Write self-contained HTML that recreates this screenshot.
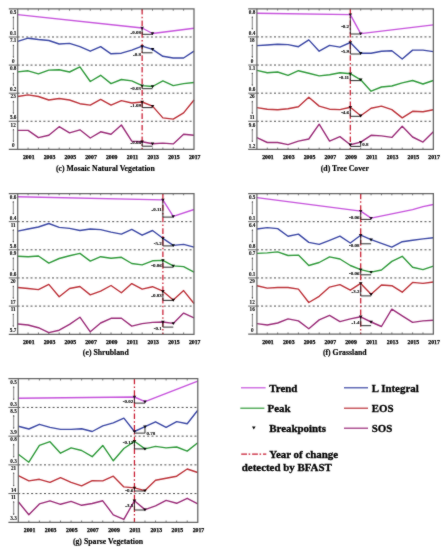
<!DOCTYPE html>
<html><head><meta charset="utf-8"><style>
html,body{margin:0;padding:0;background:#fff;}
svg{display:block;}
text{font-family:'Liberation Serif', serif;font-weight:bold;fill:#111;}
.tl{font-size:5.2px;text-anchor:middle;fill:#000;stroke:#000;stroke-width:0.1px;}
.bl{font-size:5px;fill:#000;stroke:#000;stroke-width:0.1px;}
.yr{font-size:5.8px;text-anchor:middle;fill:#000;stroke:#000;stroke-width:0.25px;}
.cap{font-size:7.75px;text-anchor:middle;fill:#000;stroke:#000;stroke-width:0.15px;}
.lg{font-size:10.9px;fill:#000;stroke:#000;stroke-width:0.3px;}
</style></head><body>
<svg width="448" height="550" viewBox="0 0 448 550">
<defs><filter id="bl" x="-5%" y="-5%" width="110%" height="110%"><feConvolveMatrix order="3" kernelMatrix="1 2 1 2 24 2 1 2 1" preserveAlpha="false"/></filter></defs>
<rect width="448" height="550" fill="#fff"/>
<g filter="url(#bl)">
<line x1="8.8" y1="36.99" x2="17.7" y2="36.99" stroke="#636363" stroke-width="1"/>
<line x1="17.6" y1="36.99" x2="193.99" y2="36.99" stroke="#444" stroke-width="0.95" stroke-dasharray="2 2.3"/>
<line x1="8.8" y1="65.08" x2="17.7" y2="65.08" stroke="#636363" stroke-width="1"/>
<line x1="17.6" y1="65.08" x2="193.99" y2="65.08" stroke="#444" stroke-width="0.95" stroke-dasharray="2 2.3"/>
<line x1="8.8" y1="93.17" x2="17.7" y2="93.17" stroke="#636363" stroke-width="1"/>
<line x1="17.6" y1="93.17" x2="193.99" y2="93.17" stroke="#444" stroke-width="0.95" stroke-dasharray="2 2.3"/>
<line x1="8.8" y1="121.26" x2="17.7" y2="121.26" stroke="#636363" stroke-width="1"/>
<line x1="17.6" y1="121.26" x2="193.99" y2="121.26" stroke="#444" stroke-width="0.95" stroke-dasharray="2 2.3"/>
<line x1="28.07" y1="8.9" x2="28.07" y2="10.7" stroke="#444" stroke-width="0.7"/>
<line x1="28.07" y1="149.35" x2="28.07" y2="147.55" stroke="#444" stroke-width="0.7"/>
<line x1="38.44" y1="8.9" x2="38.44" y2="10.7" stroke="#444" stroke-width="0.7"/>
<line x1="38.44" y1="149.35" x2="38.44" y2="147.55" stroke="#444" stroke-width="0.7"/>
<line x1="48.81" y1="8.9" x2="48.81" y2="10.7" stroke="#444" stroke-width="0.7"/>
<line x1="48.81" y1="149.35" x2="48.81" y2="147.55" stroke="#444" stroke-width="0.7"/>
<line x1="59.18" y1="8.9" x2="59.18" y2="10.7" stroke="#444" stroke-width="0.7"/>
<line x1="59.18" y1="149.35" x2="59.18" y2="147.55" stroke="#444" stroke-width="0.7"/>
<line x1="69.55" y1="8.9" x2="69.55" y2="10.7" stroke="#444" stroke-width="0.7"/>
<line x1="69.55" y1="149.35" x2="69.55" y2="147.55" stroke="#444" stroke-width="0.7"/>
<line x1="79.92" y1="8.9" x2="79.92" y2="10.7" stroke="#444" stroke-width="0.7"/>
<line x1="79.92" y1="149.35" x2="79.92" y2="147.55" stroke="#444" stroke-width="0.7"/>
<line x1="90.29" y1="8.9" x2="90.29" y2="10.7" stroke="#444" stroke-width="0.7"/>
<line x1="90.29" y1="149.35" x2="90.29" y2="147.55" stroke="#444" stroke-width="0.7"/>
<line x1="100.66" y1="8.9" x2="100.66" y2="10.7" stroke="#444" stroke-width="0.7"/>
<line x1="100.66" y1="149.35" x2="100.66" y2="147.55" stroke="#444" stroke-width="0.7"/>
<line x1="111.03" y1="8.9" x2="111.03" y2="10.7" stroke="#444" stroke-width="0.7"/>
<line x1="111.03" y1="149.35" x2="111.03" y2="147.55" stroke="#444" stroke-width="0.7"/>
<line x1="121.4" y1="8.9" x2="121.4" y2="10.7" stroke="#444" stroke-width="0.7"/>
<line x1="121.4" y1="149.35" x2="121.4" y2="147.55" stroke="#444" stroke-width="0.7"/>
<line x1="131.77" y1="8.9" x2="131.77" y2="10.7" stroke="#444" stroke-width="0.7"/>
<line x1="131.77" y1="149.35" x2="131.77" y2="147.55" stroke="#444" stroke-width="0.7"/>
<line x1="142.14" y1="8.9" x2="142.14" y2="10.7" stroke="#444" stroke-width="0.7"/>
<line x1="142.14" y1="149.35" x2="142.14" y2="147.55" stroke="#444" stroke-width="0.7"/>
<line x1="152.51" y1="8.9" x2="152.51" y2="10.7" stroke="#444" stroke-width="0.7"/>
<line x1="152.51" y1="149.35" x2="152.51" y2="147.55" stroke="#444" stroke-width="0.7"/>
<line x1="162.88" y1="8.9" x2="162.88" y2="10.7" stroke="#444" stroke-width="0.7"/>
<line x1="162.88" y1="149.35" x2="162.88" y2="147.55" stroke="#444" stroke-width="0.7"/>
<line x1="173.25" y1="8.9" x2="173.25" y2="10.7" stroke="#444" stroke-width="0.7"/>
<line x1="173.25" y1="149.35" x2="173.25" y2="147.55" stroke="#444" stroke-width="0.7"/>
<line x1="183.62" y1="8.9" x2="183.62" y2="10.7" stroke="#444" stroke-width="0.7"/>
<line x1="183.62" y1="149.35" x2="183.62" y2="147.55" stroke="#444" stroke-width="0.7"/>
<text x="13.2" y="14.2" class="tl">0.5</text>
<text x="13.2" y="35.09" class="tl">0.1</text>
<line x1="13.4" y1="16.6" x2="13.4" y2="29.59" stroke="#666" stroke-width="0.8"/>
<path d="M12.6 17.9L13.4 16.6L14.2 17.9Z" fill="#444"/>
<path d="M12.6 28.29L13.4 29.59L14.2 28.29Z" fill="#444"/>
<text x="13.2" y="42.29" class="tl">7.1</text>
<text x="13.2" y="63.18" class="tl">0</text>
<line x1="13.4" y1="44.69" x2="13.4" y2="57.68" stroke="#666" stroke-width="0.8"/>
<path d="M12.6 45.99L13.4 44.69L14.2 45.99Z" fill="#444"/>
<path d="M12.6 56.38L13.4 57.68L14.2 56.38Z" fill="#444"/>
<text x="13.2" y="70.38" class="tl">0.8</text>
<text x="13.2" y="91.27" class="tl">0.2</text>
<line x1="13.4" y1="72.78" x2="13.4" y2="85.77" stroke="#666" stroke-width="0.8"/>
<path d="M12.6 74.08L13.4 72.78L14.2 74.08Z" fill="#444"/>
<path d="M12.6 84.47L13.4 85.77L14.2 84.47Z" fill="#444"/>
<text x="13.2" y="98.47" class="tl">23</text>
<text x="13.2" y="119.36" class="tl">5.6</text>
<line x1="13.4" y1="100.87" x2="13.4" y2="113.86" stroke="#666" stroke-width="0.8"/>
<path d="M12.6 102.17L13.4 100.87L14.2 102.17Z" fill="#444"/>
<path d="M12.6 112.56L13.4 113.86L14.2 112.56Z" fill="#444"/>
<text x="13.2" y="126.56" class="tl">12</text>
<text x="13.2" y="147.45" class="tl">0</text>
<line x1="13.4" y1="128.96" x2="13.4" y2="141.95" stroke="#666" stroke-width="0.8"/>
<path d="M12.6 130.26L13.4 128.96L14.2 130.26Z" fill="#444"/>
<path d="M12.6 140.65L13.4 141.95L14.2 140.65Z" fill="#444"/>
<polyline points="17.7,14.6 142.14,28 152.51,33.5 193.99,28.2" fill="none" stroke="#c652dc" stroke-width="1.4" stroke-linejoin="round"/>
<polyline points="17.7,41.3 28.07,38.2 38.44,39.5 48.81,40.5 59.18,44 69.55,43.4 79.92,46.7 90.29,51.2 100.66,46.7 111.03,53.8 121.4,53.2 131.77,50.1 142.14,46.2 152.51,49.3 162.88,56.3 173.25,58 183.62,58 193.99,51.2" fill="none" stroke="#3a46a4" stroke-width="1.4" stroke-linejoin="round"/>
<polyline points="17.7,71.9 28.07,70.8 38.44,73.9 48.81,70.1 59.18,69.8 69.55,72 79.92,66.9 90.29,81.5 100.66,75.3 111.03,83.6 121.4,79.5 131.77,80.9 142.14,85.6 152.51,86.5 162.88,80.9 173.25,85.6 183.62,83.6 193.99,82.5" fill="none" stroke="#2f9a3a" stroke-width="1.4" stroke-linejoin="round"/>
<polyline points="17.7,96.5 28.07,94.9 38.44,96.5 48.81,100 59.18,98.5 69.55,100 79.92,103.7 90.29,105.1 100.66,99.4 111.03,105.1 121.4,100.6 131.77,103 142.14,102 152.51,106.1 162.88,117.9 173.25,119.1 183.62,112.9 193.99,100" fill="none" stroke="#bc3038" stroke-width="1.4" stroke-linejoin="round"/>
<polyline points="17.7,130.4 28.07,130.4 38.44,137.6 48.81,135.3 59.18,126.7 69.55,132.9 79.92,129.8 90.29,138 100.66,131.8 111.03,134.3 121.4,125 131.77,141.1 142.14,141.7 152.51,143.7 162.88,143.1 173.25,143.9 183.62,134.3 193.99,135.3" fill="none" stroke="#9a2c78" stroke-width="1.4" stroke-linejoin="round"/>
<line x1="142.14" y1="8.9" x2="142.14" y2="149.35" stroke="#c81c30" stroke-width="1.25" stroke-dasharray="5.6 2.2 1.5 2.3"/>
<path d="M142.14 28V34.3H152.51" fill="none" stroke="#222" stroke-width="0.95"/>
<text x="140.94" y="34.1" class="bl" text-anchor="end"><tspan dy="-0.6" stroke-width="0.35">-</tspan><tspan dy="0.6">0.08</tspan></text>
<path d="M140.34 26.8H143.94L142.14 29.7Z" fill="#000"/>
<path d="M150.71 32.3H154.31L152.51 35.2Z" fill="#000"/>
<path d="M142.14 46.2V52.8H152.51" fill="none" stroke="#222" stroke-width="0.95"/>
<text x="140.94" y="56.3" class="bl" text-anchor="end"><tspan dy="-0.6" stroke-width="0.35">-</tspan><tspan dy="0.6">0.8</tspan></text>
<path d="M140.34 45H143.94L142.14 47.9Z" fill="#000"/>
<path d="M150.71 48.1H154.31L152.51 51Z" fill="#000"/>
<path d="M142.14 85.6V88.7H152.51" fill="none" stroke="#222" stroke-width="0.95"/>
<text x="140.94" y="89.6" class="bl" text-anchor="end"><tspan dy="-0.6" stroke-width="0.35">-</tspan><tspan dy="0.6">0.03</tspan></text>
<path d="M140.34 84.4H143.94L142.14 87.3Z" fill="#000"/>
<path d="M150.71 85.3H154.31L152.51 88.2Z" fill="#000"/>
<path d="M142.14 102V107.6H152.51" fill="none" stroke="#222" stroke-width="0.95"/>
<text x="140.94" y="107.2" class="bl" text-anchor="end"><tspan dy="-0.6" stroke-width="0.35">-</tspan><tspan dy="0.6">1.09</tspan></text>
<path d="M140.34 100.8H143.94L142.14 103.7Z" fill="#000"/>
<path d="M150.71 104.9H154.31L152.51 107.8Z" fill="#000"/>
<path d="M142.14 141.7V146.2H152.51" fill="none" stroke="#222" stroke-width="0.95"/>
<text x="140.94" y="144.2" class="bl" text-anchor="end"><tspan dy="-0.6" stroke-width="0.35">-</tspan><tspan dy="0.6">0.04</tspan></text>
<path d="M140.34 140.5H143.94L142.14 143.4Z" fill="#000"/>
<path d="M150.71 142.5H154.31L152.51 145.4Z" fill="#000"/>
<path d="M8.8 8.9H193.99V149.35H8.8" fill="none" stroke="#636363" stroke-width="1.25"/>
<line x1="17.7" y1="8.9" x2="17.7" y2="149.35" stroke="#636363" stroke-width="1.2"/>
<text x="28.77" y="158.9" class="yr">2001</text>
<text x="49.51" y="158.9" class="yr">2003</text>
<text x="70.25" y="158.9" class="yr">2005</text>
<text x="90.99" y="158.9" class="yr">2007</text>
<text x="111.73" y="158.9" class="yr">2009</text>
<text x="132.47" y="158.9" class="yr">2011</text>
<text x="153.21" y="158.9" class="yr">2013</text>
<text x="173.95" y="158.9" class="yr">2015</text>
<text x="194.69" y="158.9" class="yr">2017</text>
<text x="105.35" y="171.2" class="cap">(c) Mosaic Natural Vegetation</text>
<line x1="248.2" y1="36.92" x2="256.9" y2="36.92" stroke="#636363" stroke-width="1"/>
<line x1="256.8" y1="36.92" x2="433.36" y2="36.92" stroke="#444" stroke-width="0.95" stroke-dasharray="2 2.3"/>
<line x1="248.2" y1="65.04" x2="256.9" y2="65.04" stroke="#636363" stroke-width="1"/>
<line x1="256.8" y1="65.04" x2="433.36" y2="65.04" stroke="#444" stroke-width="0.95" stroke-dasharray="2 2.3"/>
<line x1="248.2" y1="93.16" x2="256.9" y2="93.16" stroke="#636363" stroke-width="1"/>
<line x1="256.8" y1="93.16" x2="433.36" y2="93.16" stroke="#444" stroke-width="0.95" stroke-dasharray="2 2.3"/>
<line x1="248.2" y1="121.28" x2="256.9" y2="121.28" stroke="#636363" stroke-width="1"/>
<line x1="256.8" y1="121.28" x2="433.36" y2="121.28" stroke="#444" stroke-width="0.95" stroke-dasharray="2 2.3"/>
<line x1="267.28" y1="8.8" x2="267.28" y2="10.6" stroke="#444" stroke-width="0.7"/>
<line x1="267.28" y1="149.4" x2="267.28" y2="147.6" stroke="#444" stroke-width="0.7"/>
<line x1="277.66" y1="8.8" x2="277.66" y2="10.6" stroke="#444" stroke-width="0.7"/>
<line x1="277.66" y1="149.4" x2="277.66" y2="147.6" stroke="#444" stroke-width="0.7"/>
<line x1="288.04" y1="8.8" x2="288.04" y2="10.6" stroke="#444" stroke-width="0.7"/>
<line x1="288.04" y1="149.4" x2="288.04" y2="147.6" stroke="#444" stroke-width="0.7"/>
<line x1="298.42" y1="8.8" x2="298.42" y2="10.6" stroke="#444" stroke-width="0.7"/>
<line x1="298.42" y1="149.4" x2="298.42" y2="147.6" stroke="#444" stroke-width="0.7"/>
<line x1="308.8" y1="8.8" x2="308.8" y2="10.6" stroke="#444" stroke-width="0.7"/>
<line x1="308.8" y1="149.4" x2="308.8" y2="147.6" stroke="#444" stroke-width="0.7"/>
<line x1="319.18" y1="8.8" x2="319.18" y2="10.6" stroke="#444" stroke-width="0.7"/>
<line x1="319.18" y1="149.4" x2="319.18" y2="147.6" stroke="#444" stroke-width="0.7"/>
<line x1="329.56" y1="8.8" x2="329.56" y2="10.6" stroke="#444" stroke-width="0.7"/>
<line x1="329.56" y1="149.4" x2="329.56" y2="147.6" stroke="#444" stroke-width="0.7"/>
<line x1="339.94" y1="8.8" x2="339.94" y2="10.6" stroke="#444" stroke-width="0.7"/>
<line x1="339.94" y1="149.4" x2="339.94" y2="147.6" stroke="#444" stroke-width="0.7"/>
<line x1="350.32" y1="8.8" x2="350.32" y2="10.6" stroke="#444" stroke-width="0.7"/>
<line x1="350.32" y1="149.4" x2="350.32" y2="147.6" stroke="#444" stroke-width="0.7"/>
<line x1="360.7" y1="8.8" x2="360.7" y2="10.6" stroke="#444" stroke-width="0.7"/>
<line x1="360.7" y1="149.4" x2="360.7" y2="147.6" stroke="#444" stroke-width="0.7"/>
<line x1="371.08" y1="8.8" x2="371.08" y2="10.6" stroke="#444" stroke-width="0.7"/>
<line x1="371.08" y1="149.4" x2="371.08" y2="147.6" stroke="#444" stroke-width="0.7"/>
<line x1="381.46" y1="8.8" x2="381.46" y2="10.6" stroke="#444" stroke-width="0.7"/>
<line x1="381.46" y1="149.4" x2="381.46" y2="147.6" stroke="#444" stroke-width="0.7"/>
<line x1="391.84" y1="8.8" x2="391.84" y2="10.6" stroke="#444" stroke-width="0.7"/>
<line x1="391.84" y1="149.4" x2="391.84" y2="147.6" stroke="#444" stroke-width="0.7"/>
<line x1="402.22" y1="8.8" x2="402.22" y2="10.6" stroke="#444" stroke-width="0.7"/>
<line x1="402.22" y1="149.4" x2="402.22" y2="147.6" stroke="#444" stroke-width="0.7"/>
<line x1="412.6" y1="8.8" x2="412.6" y2="10.6" stroke="#444" stroke-width="0.7"/>
<line x1="412.6" y1="149.4" x2="412.6" y2="147.6" stroke="#444" stroke-width="0.7"/>
<line x1="422.98" y1="8.8" x2="422.98" y2="10.6" stroke="#444" stroke-width="0.7"/>
<line x1="422.98" y1="149.4" x2="422.98" y2="147.6" stroke="#444" stroke-width="0.7"/>
<text x="252.1" y="14.1" class="tl">0.8</text>
<text x="252.1" y="35.02" class="tl">0.4</text>
<line x1="252.3" y1="16.5" x2="252.3" y2="29.52" stroke="#666" stroke-width="0.8"/>
<path d="M251.5 17.8L252.3 16.5L253.1 17.8Z" fill="#444"/>
<path d="M251.5 28.22L252.3 29.52L253.1 28.22Z" fill="#444"/>
<text x="252.1" y="42.22" class="tl">18</text>
<text x="252.1" y="63.14" class="tl">0</text>
<line x1="252.3" y1="44.62" x2="252.3" y2="57.64" stroke="#666" stroke-width="0.8"/>
<path d="M251.5 45.92L252.3 44.62L253.1 45.92Z" fill="#444"/>
<path d="M251.5 56.34L252.3 57.64L253.1 56.34Z" fill="#444"/>
<text x="252.1" y="70.34" class="tl">1.1</text>
<text x="252.1" y="91.26" class="tl">0.6</text>
<line x1="252.3" y1="72.74" x2="252.3" y2="85.76" stroke="#666" stroke-width="0.8"/>
<path d="M251.5 74.04L252.3 72.74L253.1 74.04Z" fill="#444"/>
<path d="M251.5 84.46L252.3 85.76L253.1 84.46Z" fill="#444"/>
<text x="252.1" y="98.46" class="tl">26</text>
<text x="252.1" y="119.38" class="tl">11</text>
<line x1="252.3" y1="100.86" x2="252.3" y2="113.88" stroke="#666" stroke-width="0.8"/>
<path d="M251.5 102.16L252.3 100.86L253.1 102.16Z" fill="#444"/>
<path d="M251.5 112.58L252.3 113.88L253.1 112.58Z" fill="#444"/>
<text x="252.1" y="126.58" class="tl">9.6</text>
<text x="252.1" y="147.5" class="tl">1.2</text>
<line x1="252.3" y1="128.98" x2="252.3" y2="142" stroke="#666" stroke-width="0.8"/>
<path d="M251.5 130.28L252.3 128.98L253.1 130.28Z" fill="#444"/>
<path d="M251.5 140.7L252.3 142L253.1 140.7Z" fill="#444"/>
<polyline points="256.9,13.2 350.32,14.6 360.7,33.6 433.36,24.9" fill="none" stroke="#c652dc" stroke-width="1.4" stroke-linejoin="round"/>
<polyline points="256.9,45.6 267.28,45 277.66,44.2 288.04,44.6 298.42,46.7 308.8,39.9 319.18,51.2 329.56,45.4 339.94,47.1 350.32,42.5 360.7,53.3 371.08,53.2 381.46,51.2 391.84,50.8 402.22,59 412.6,50.1 422.98,50.1 433.36,51.6" fill="none" stroke="#3a46a4" stroke-width="1.4" stroke-linejoin="round"/>
<polyline points="256.9,70.4 267.28,72.8 277.66,72 288.04,75.3 298.42,70.7 308.8,73.3 319.18,75.9 329.56,74.7 339.94,72.7 350.32,73.7 360.7,79.8 371.08,91.2 381.46,87 391.84,86 402.22,82.9 412.6,80.5 422.98,84 433.36,80.5" fill="none" stroke="#2f9a3a" stroke-width="1.4" stroke-linejoin="round"/>
<polyline points="256.9,107.6 267.28,109.2 277.66,109.8 288.04,108.8 298.42,106.8 308.8,97.3 319.18,106.1 329.56,109.2 339.94,109.6 350.32,107.2 360.7,115.7 371.08,108.2 381.46,106.1 391.84,109.6 402.22,117.9 412.6,111.3 422.98,111.7 433.36,109.8" fill="none" stroke="#bc3038" stroke-width="1.4" stroke-linejoin="round"/>
<polyline points="256.9,137.6 267.28,142.5 277.66,142.5 288.04,144.6 298.42,141.1 308.8,139 319.18,124.2 329.56,141.1 339.94,136.6 350.32,144.8 360.7,142.1 371.08,135.3 381.46,135.9 391.84,137.4 402.22,126.3 412.6,137 422.98,142.1 433.36,131.8" fill="none" stroke="#9a2c78" stroke-width="1.4" stroke-linejoin="round"/>
<line x1="350.32" y1="8.8" x2="350.32" y2="149.4" stroke="#c81c30" stroke-width="1.25" stroke-dasharray="5.6 2.2 1.5 2.3"/>
<path d="M350.32 14.6V34H360.7" fill="none" stroke="#222" stroke-width="0.95"/>
<text x="349.12" y="27.5" class="bl" text-anchor="end"><tspan dy="-0.6" stroke-width="0.35">-</tspan><tspan dy="0.6">0.2</tspan></text>
<path d="M348.52 13.4H352.12L350.32 16.3Z" fill="#000"/>
<path d="M358.9 32.4H362.5L360.7 35.3Z" fill="#000"/>
<path d="M350.32 42.5V54H360.7" fill="none" stroke="#222" stroke-width="0.95"/>
<text x="349.12" y="52.7" class="bl" text-anchor="end"><tspan dy="-0.6" stroke-width="0.35">-</tspan><tspan dy="0.6">5.9</tspan></text>
<path d="M348.52 41.3H352.12L350.32 44.2Z" fill="#000"/>
<path d="M358.9 52.1H362.5L360.7 55Z" fill="#000"/>
<path d="M350.32 73.7V80.6H360.7" fill="none" stroke="#222" stroke-width="0.95"/>
<text x="349.12" y="78.9" class="bl" text-anchor="end"><tspan dy="-0.6" stroke-width="0.35">-</tspan><tspan dy="0.6">0.11</tspan></text>
<path d="M348.52 72.5H352.12L350.32 75.4Z" fill="#000"/>
<path d="M358.9 78.6H362.5L360.7 81.5Z" fill="#000"/>
<path d="M350.32 107.2V116.3H360.7" fill="none" stroke="#222" stroke-width="0.95"/>
<text x="349.12" y="113.6" class="bl" text-anchor="end"><tspan dy="-0.6" stroke-width="0.35">-</tspan><tspan dy="0.6">4.6</tspan></text>
<path d="M348.52 106H352.12L350.32 108.9Z" fill="#000"/>
<path d="M358.9 114.5H362.5L360.7 117.4Z" fill="#000"/>
<path d="M350.32 146.4H360.7V142.1" fill="none" stroke="#222" stroke-width="0.95"/>
<text x="362.2" y="146" class="bl" text-anchor="start">0.8</text>
<path d="M348.52 143.6H352.12L350.32 146.5Z" fill="#000"/>
<path d="M358.9 140.9H362.5L360.7 143.8Z" fill="#000"/>
<path d="M248.2 8.8H433.36V149.4H248.2" fill="none" stroke="#636363" stroke-width="1.25"/>
<line x1="256.9" y1="8.8" x2="256.9" y2="149.4" stroke="#636363" stroke-width="1.2"/>
<text x="267.98" y="158.9" class="yr">2001</text>
<text x="288.74" y="158.9" class="yr">2003</text>
<text x="309.5" y="158.9" class="yr">2005</text>
<text x="330.26" y="158.9" class="yr">2007</text>
<text x="351.02" y="158.9" class="yr">2009</text>
<text x="371.78" y="158.9" class="yr">2011</text>
<text x="392.54" y="158.9" class="yr">2013</text>
<text x="413.3" y="158.9" class="yr">2015</text>
<text x="434.06" y="158.9" class="yr">2017</text>
<text x="344.9" y="170.8" class="cap">(d) Tree Cover</text>
<line x1="8.8" y1="221.65" x2="17.7" y2="221.65" stroke="#636363" stroke-width="1"/>
<line x1="17.6" y1="221.65" x2="193.99" y2="221.65" stroke="#444" stroke-width="0.95" stroke-dasharray="2 2.3"/>
<line x1="8.8" y1="249.8" x2="17.7" y2="249.8" stroke="#636363" stroke-width="1"/>
<line x1="17.6" y1="249.8" x2="193.99" y2="249.8" stroke="#444" stroke-width="0.95" stroke-dasharray="2 2.3"/>
<line x1="8.8" y1="277.95" x2="17.7" y2="277.95" stroke="#636363" stroke-width="1"/>
<line x1="17.6" y1="277.95" x2="193.99" y2="277.95" stroke="#444" stroke-width="0.95" stroke-dasharray="2 2.3"/>
<line x1="8.8" y1="306.1" x2="17.7" y2="306.1" stroke="#636363" stroke-width="1"/>
<line x1="17.6" y1="306.1" x2="193.99" y2="306.1" stroke="#444" stroke-width="0.95" stroke-dasharray="2 2.3"/>
<line x1="28.07" y1="193.5" x2="28.07" y2="195.3" stroke="#444" stroke-width="0.7"/>
<line x1="28.07" y1="334.25" x2="28.07" y2="332.45" stroke="#444" stroke-width="0.7"/>
<line x1="38.44" y1="193.5" x2="38.44" y2="195.3" stroke="#444" stroke-width="0.7"/>
<line x1="38.44" y1="334.25" x2="38.44" y2="332.45" stroke="#444" stroke-width="0.7"/>
<line x1="48.81" y1="193.5" x2="48.81" y2="195.3" stroke="#444" stroke-width="0.7"/>
<line x1="48.81" y1="334.25" x2="48.81" y2="332.45" stroke="#444" stroke-width="0.7"/>
<line x1="59.18" y1="193.5" x2="59.18" y2="195.3" stroke="#444" stroke-width="0.7"/>
<line x1="59.18" y1="334.25" x2="59.18" y2="332.45" stroke="#444" stroke-width="0.7"/>
<line x1="69.55" y1="193.5" x2="69.55" y2="195.3" stroke="#444" stroke-width="0.7"/>
<line x1="69.55" y1="334.25" x2="69.55" y2="332.45" stroke="#444" stroke-width="0.7"/>
<line x1="79.92" y1="193.5" x2="79.92" y2="195.3" stroke="#444" stroke-width="0.7"/>
<line x1="79.92" y1="334.25" x2="79.92" y2="332.45" stroke="#444" stroke-width="0.7"/>
<line x1="90.29" y1="193.5" x2="90.29" y2="195.3" stroke="#444" stroke-width="0.7"/>
<line x1="90.29" y1="334.25" x2="90.29" y2="332.45" stroke="#444" stroke-width="0.7"/>
<line x1="100.66" y1="193.5" x2="100.66" y2="195.3" stroke="#444" stroke-width="0.7"/>
<line x1="100.66" y1="334.25" x2="100.66" y2="332.45" stroke="#444" stroke-width="0.7"/>
<line x1="111.03" y1="193.5" x2="111.03" y2="195.3" stroke="#444" stroke-width="0.7"/>
<line x1="111.03" y1="334.25" x2="111.03" y2="332.45" stroke="#444" stroke-width="0.7"/>
<line x1="121.4" y1="193.5" x2="121.4" y2="195.3" stroke="#444" stroke-width="0.7"/>
<line x1="121.4" y1="334.25" x2="121.4" y2="332.45" stroke="#444" stroke-width="0.7"/>
<line x1="131.77" y1="193.5" x2="131.77" y2="195.3" stroke="#444" stroke-width="0.7"/>
<line x1="131.77" y1="334.25" x2="131.77" y2="332.45" stroke="#444" stroke-width="0.7"/>
<line x1="142.14" y1="193.5" x2="142.14" y2="195.3" stroke="#444" stroke-width="0.7"/>
<line x1="142.14" y1="334.25" x2="142.14" y2="332.45" stroke="#444" stroke-width="0.7"/>
<line x1="152.51" y1="193.5" x2="152.51" y2="195.3" stroke="#444" stroke-width="0.7"/>
<line x1="152.51" y1="334.25" x2="152.51" y2="332.45" stroke="#444" stroke-width="0.7"/>
<line x1="162.88" y1="193.5" x2="162.88" y2="195.3" stroke="#444" stroke-width="0.7"/>
<line x1="162.88" y1="334.25" x2="162.88" y2="332.45" stroke="#444" stroke-width="0.7"/>
<line x1="173.25" y1="193.5" x2="173.25" y2="195.3" stroke="#444" stroke-width="0.7"/>
<line x1="173.25" y1="334.25" x2="173.25" y2="332.45" stroke="#444" stroke-width="0.7"/>
<line x1="183.62" y1="193.5" x2="183.62" y2="195.3" stroke="#444" stroke-width="0.7"/>
<line x1="183.62" y1="334.25" x2="183.62" y2="332.45" stroke="#444" stroke-width="0.7"/>
<text x="13.1" y="198.8" class="tl">0.6</text>
<text x="13.1" y="219.75" class="tl">0.4</text>
<line x1="13.3" y1="201.2" x2="13.3" y2="214.25" stroke="#666" stroke-width="0.8"/>
<path d="M12.5 202.5L13.3 201.2L14.1 202.5Z" fill="#444"/>
<path d="M12.5 212.95L13.3 214.25L14.1 212.95Z" fill="#444"/>
<text x="13.1" y="226.95" class="tl">11</text>
<text x="13.1" y="247.9" class="tl">5.8</text>
<line x1="13.3" y1="229.35" x2="13.3" y2="242.4" stroke="#666" stroke-width="0.8"/>
<path d="M12.5 230.65L13.3 229.35L14.1 230.65Z" fill="#444"/>
<path d="M12.5 241.1L13.3 242.4L14.1 241.1Z" fill="#444"/>
<text x="13.1" y="255.1" class="tl">0.9</text>
<text x="13.1" y="276.05" class="tl">0.6</text>
<line x1="13.3" y1="257.5" x2="13.3" y2="270.55" stroke="#666" stroke-width="0.8"/>
<path d="M12.5 258.8L13.3 257.5L14.1 258.8Z" fill="#444"/>
<path d="M12.5 269.25L13.3 270.55L14.1 269.25Z" fill="#444"/>
<text x="13.1" y="283.25" class="tl">20</text>
<text x="13.1" y="304.2" class="tl">17</text>
<line x1="13.3" y1="285.65" x2="13.3" y2="298.7" stroke="#666" stroke-width="0.8"/>
<path d="M12.5 286.95L13.3 285.65L14.1 286.95Z" fill="#444"/>
<path d="M12.5 297.4L13.3 298.7L14.1 297.4Z" fill="#444"/>
<text x="13.1" y="311.4" class="tl">11</text>
<text x="13.1" y="332.35" class="tl">5.7</text>
<line x1="13.3" y1="313.8" x2="13.3" y2="326.85" stroke="#666" stroke-width="0.8"/>
<path d="M12.5 315.1L13.3 313.8L14.1 315.1Z" fill="#444"/>
<path d="M12.5 325.55L13.3 326.85L14.1 325.55Z" fill="#444"/>
<polyline points="17.7,196.8 162.88,199.9 173.25,216.4 193.99,209.5" fill="none" stroke="#c652dc" stroke-width="1.4" stroke-linejoin="round"/>
<polyline points="17.7,231.1 28.07,229 38.44,227 48.81,223.5 59.18,227.4 69.55,228.4 79.92,230.5 90.29,229 100.66,229.6 111.03,232.1 121.4,234.1 131.77,229.4 142.14,235.2 152.51,230.5 162.88,238.3 173.25,245.4 183.62,244.4 193.99,247.1" fill="none" stroke="#3a46a4" stroke-width="1.4" stroke-linejoin="round"/>
<polyline points="17.7,256.2 28.07,256.7 38.44,256 48.81,263.1 59.18,258.5 69.55,255.7 79.92,253.4 90.29,261.1 100.66,256.7 111.03,258.3 121.4,257.3 131.77,263.5 142.14,264.9 152.51,260.8 162.88,260.4 173.25,265.9 183.62,266.6 193.99,272.1" fill="none" stroke="#2f9a3a" stroke-width="1.4" stroke-linejoin="round"/>
<polyline points="17.7,287.5 28.07,288.5 38.44,289.6 48.81,284.4 59.18,296.7 69.55,288.5 79.92,286.5 90.29,294.9 100.66,291.2 111.03,285.5 121.4,292.8 131.77,283.6 142.14,289.1 152.51,286.7 162.88,291.2 173.25,300 183.62,290.6 193.99,303.5" fill="none" stroke="#bc3038" stroke-width="1.4" stroke-linejoin="round"/>
<polyline points="17.7,324 28.07,325 38.44,327.7 48.81,332.6 59.18,330.2 69.55,324.4 79.92,317.2 90.29,331.8 100.66,323 111.03,318.3 121.4,318.3 131.77,326.1 142.14,323.6 152.51,322.4 162.88,322 173.25,323.4 183.62,313.1 193.99,317.9" fill="none" stroke="#9a2c78" stroke-width="1.4" stroke-linejoin="round"/>
<line x1="162.88" y1="193.5" x2="162.88" y2="334.25" stroke="#c81c30" stroke-width="1.25" stroke-dasharray="5.6 2.2 1.5 2.3"/>
<path d="M162.88 199.9V217.1H173.25" fill="none" stroke="#222" stroke-width="0.95"/>
<text x="161.68" y="211.4" class="bl" text-anchor="end"><tspan dy="-0.6" stroke-width="0.35">-</tspan><tspan dy="0.6">0.11</tspan></text>
<path d="M161.08 198.7H164.68L162.88 201.6Z" fill="#000"/>
<path d="M171.45 215.2H175.05L173.25 218.1Z" fill="#000"/>
<path d="M162.88 238.3V245.9H173.25" fill="none" stroke="#222" stroke-width="0.95"/>
<text x="161.68" y="244.5" class="bl" text-anchor="end"><tspan dy="-0.6" stroke-width="0.35">-</tspan><tspan dy="0.6">5.2</tspan></text>
<path d="M161.08 237.1H164.68L162.88 240Z" fill="#000"/>
<path d="M171.45 244.2H175.05L173.25 247.1Z" fill="#000"/>
<path d="M162.88 260.4V267.2H173.25" fill="none" stroke="#222" stroke-width="0.95"/>
<text x="161.68" y="267" class="bl" text-anchor="end"><tspan dy="-0.6" stroke-width="0.35">-</tspan><tspan dy="0.6">0.06</tspan></text>
<path d="M161.08 259.2H164.68L162.88 262.1Z" fill="#000"/>
<path d="M171.45 264.7H175.05L173.25 267.6Z" fill="#000"/>
<path d="M162.88 291.2V300.4H173.25" fill="none" stroke="#222" stroke-width="0.95"/>
<text x="161.68" y="297.2" class="bl" text-anchor="end"><tspan dy="-0.6" stroke-width="0.35">-</tspan><tspan dy="0.6">0.83</tspan></text>
<path d="M161.08 290H164.68L162.88 292.9Z" fill="#000"/>
<path d="M171.45 298.8H175.05L173.25 301.7Z" fill="#000"/>
<path d="M162.88 322V327.1H173.25" fill="none" stroke="#222" stroke-width="0.95"/>
<text x="161.68" y="329.6" class="bl" text-anchor="end"><tspan dy="-0.6" stroke-width="0.35">-</tspan><tspan dy="0.6">0.1</tspan></text>
<path d="M161.08 320.8H164.68L162.88 323.7Z" fill="#000"/>
<path d="M171.45 322.2H175.05L173.25 325.1Z" fill="#000"/>
<path d="M8.8 193.5H193.99V334.25H8.8" fill="none" stroke="#636363" stroke-width="1.25"/>
<line x1="17.7" y1="193.5" x2="17.7" y2="334.25" stroke="#636363" stroke-width="1.2"/>
<text x="28.77" y="344" class="yr">2001</text>
<text x="49.51" y="344" class="yr">2003</text>
<text x="70.25" y="344" class="yr">2005</text>
<text x="90.99" y="344" class="yr">2007</text>
<text x="111.73" y="344" class="yr">2009</text>
<text x="132.47" y="344" class="yr">2011</text>
<text x="153.21" y="344" class="yr">2013</text>
<text x="173.95" y="344" class="yr">2015</text>
<text x="194.69" y="344" class="yr">2017</text>
<text x="105.8" y="355.4" class="cap">(e) Shrubland</text>
<line x1="248.2" y1="221.68" x2="256.9" y2="221.68" stroke="#636363" stroke-width="1"/>
<line x1="256.8" y1="221.68" x2="433.36" y2="221.68" stroke="#444" stroke-width="0.95" stroke-dasharray="2 2.3"/>
<line x1="248.2" y1="249.81" x2="256.9" y2="249.81" stroke="#636363" stroke-width="1"/>
<line x1="256.8" y1="249.81" x2="433.36" y2="249.81" stroke="#444" stroke-width="0.95" stroke-dasharray="2 2.3"/>
<line x1="248.2" y1="277.94" x2="256.9" y2="277.94" stroke="#636363" stroke-width="1"/>
<line x1="256.8" y1="277.94" x2="433.36" y2="277.94" stroke="#444" stroke-width="0.95" stroke-dasharray="2 2.3"/>
<line x1="248.2" y1="306.07" x2="256.9" y2="306.07" stroke="#636363" stroke-width="1"/>
<line x1="256.8" y1="306.07" x2="433.36" y2="306.07" stroke="#444" stroke-width="0.95" stroke-dasharray="2 2.3"/>
<line x1="267.28" y1="193.55" x2="267.28" y2="195.35" stroke="#444" stroke-width="0.7"/>
<line x1="267.28" y1="334.2" x2="267.28" y2="332.4" stroke="#444" stroke-width="0.7"/>
<line x1="277.66" y1="193.55" x2="277.66" y2="195.35" stroke="#444" stroke-width="0.7"/>
<line x1="277.66" y1="334.2" x2="277.66" y2="332.4" stroke="#444" stroke-width="0.7"/>
<line x1="288.04" y1="193.55" x2="288.04" y2="195.35" stroke="#444" stroke-width="0.7"/>
<line x1="288.04" y1="334.2" x2="288.04" y2="332.4" stroke="#444" stroke-width="0.7"/>
<line x1="298.42" y1="193.55" x2="298.42" y2="195.35" stroke="#444" stroke-width="0.7"/>
<line x1="298.42" y1="334.2" x2="298.42" y2="332.4" stroke="#444" stroke-width="0.7"/>
<line x1="308.8" y1="193.55" x2="308.8" y2="195.35" stroke="#444" stroke-width="0.7"/>
<line x1="308.8" y1="334.2" x2="308.8" y2="332.4" stroke="#444" stroke-width="0.7"/>
<line x1="319.18" y1="193.55" x2="319.18" y2="195.35" stroke="#444" stroke-width="0.7"/>
<line x1="319.18" y1="334.2" x2="319.18" y2="332.4" stroke="#444" stroke-width="0.7"/>
<line x1="329.56" y1="193.55" x2="329.56" y2="195.35" stroke="#444" stroke-width="0.7"/>
<line x1="329.56" y1="334.2" x2="329.56" y2="332.4" stroke="#444" stroke-width="0.7"/>
<line x1="339.94" y1="193.55" x2="339.94" y2="195.35" stroke="#444" stroke-width="0.7"/>
<line x1="339.94" y1="334.2" x2="339.94" y2="332.4" stroke="#444" stroke-width="0.7"/>
<line x1="350.32" y1="193.55" x2="350.32" y2="195.35" stroke="#444" stroke-width="0.7"/>
<line x1="350.32" y1="334.2" x2="350.32" y2="332.4" stroke="#444" stroke-width="0.7"/>
<line x1="360.7" y1="193.55" x2="360.7" y2="195.35" stroke="#444" stroke-width="0.7"/>
<line x1="360.7" y1="334.2" x2="360.7" y2="332.4" stroke="#444" stroke-width="0.7"/>
<line x1="371.08" y1="193.55" x2="371.08" y2="195.35" stroke="#444" stroke-width="0.7"/>
<line x1="371.08" y1="334.2" x2="371.08" y2="332.4" stroke="#444" stroke-width="0.7"/>
<line x1="381.46" y1="193.55" x2="381.46" y2="195.35" stroke="#444" stroke-width="0.7"/>
<line x1="381.46" y1="334.2" x2="381.46" y2="332.4" stroke="#444" stroke-width="0.7"/>
<line x1="391.84" y1="193.55" x2="391.84" y2="195.35" stroke="#444" stroke-width="0.7"/>
<line x1="391.84" y1="334.2" x2="391.84" y2="332.4" stroke="#444" stroke-width="0.7"/>
<line x1="402.22" y1="193.55" x2="402.22" y2="195.35" stroke="#444" stroke-width="0.7"/>
<line x1="402.22" y1="334.2" x2="402.22" y2="332.4" stroke="#444" stroke-width="0.7"/>
<line x1="412.6" y1="193.55" x2="412.6" y2="195.35" stroke="#444" stroke-width="0.7"/>
<line x1="412.6" y1="334.2" x2="412.6" y2="332.4" stroke="#444" stroke-width="0.7"/>
<line x1="422.98" y1="193.55" x2="422.98" y2="195.35" stroke="#444" stroke-width="0.7"/>
<line x1="422.98" y1="334.2" x2="422.98" y2="332.4" stroke="#444" stroke-width="0.7"/>
<text x="252.2" y="198.85" class="tl">0.5</text>
<text x="252.2" y="219.78" class="tl">0.1</text>
<line x1="252.4" y1="201.25" x2="252.4" y2="214.28" stroke="#666" stroke-width="0.8"/>
<path d="M251.6 202.55L252.4 201.25L253.2 202.55Z" fill="#444"/>
<path d="M251.6 212.98L252.4 214.28L253.2 212.98Z" fill="#444"/>
<text x="252.2" y="226.98" class="tl">6.4</text>
<text x="252.2" y="247.91" class="tl">0.8</text>
<line x1="252.4" y1="229.38" x2="252.4" y2="242.41" stroke="#666" stroke-width="0.8"/>
<path d="M251.6 230.68L252.4 229.38L253.2 230.68Z" fill="#444"/>
<path d="M251.6 241.11L252.4 242.41L253.2 241.11Z" fill="#444"/>
<text x="252.2" y="255.11" class="tl">0.7</text>
<text x="252.2" y="276.04" class="tl">0.1</text>
<line x1="252.4" y1="257.51" x2="252.4" y2="270.54" stroke="#666" stroke-width="0.8"/>
<path d="M251.6 258.81L252.4 257.51L253.2 258.81Z" fill="#444"/>
<path d="M251.6 269.24L252.4 270.54L253.2 269.24Z" fill="#444"/>
<text x="252.2" y="283.24" class="tl">29</text>
<text x="252.2" y="304.17" class="tl">12</text>
<line x1="252.4" y1="285.64" x2="252.4" y2="298.67" stroke="#666" stroke-width="0.8"/>
<path d="M251.6 286.94L252.4 285.64L253.2 286.94Z" fill="#444"/>
<path d="M251.6 297.37L252.4 298.67L253.2 297.37Z" fill="#444"/>
<text x="252.2" y="311.37" class="tl">16</text>
<text x="252.2" y="332.3" class="tl">0</text>
<line x1="252.4" y1="313.77" x2="252.4" y2="326.8" stroke="#666" stroke-width="0.8"/>
<path d="M251.6 315.07L252.4 313.77L253.2 315.07Z" fill="#444"/>
<path d="M251.6 325.5L252.4 326.8L253.2 325.5Z" fill="#444"/>
<polyline points="256.9,197.6 360.7,211.1 371.08,218.1 412.6,209.6 422.98,206.6 433.36,204.5" fill="none" stroke="#c652dc" stroke-width="1.4" stroke-linejoin="round"/>
<polyline points="256.9,229 267.28,227.6 277.66,228.6 288.04,236.2 298.42,234.1 308.8,242.4 319.18,244.4 329.56,240.3 339.94,236.2 350.32,243 360.7,235.2 371.08,239.7 381.46,243.4 391.84,247.1 402.22,241.7 412.6,240.3 422.98,238.9 433.36,237.8" fill="none" stroke="#3a46a4" stroke-width="1.4" stroke-linejoin="round"/>
<polyline points="256.9,253.4 267.28,252.9 277.66,251.9 288.04,255.5 298.42,255.1 308.8,265.5 319.18,262.5 329.56,256.9 339.94,259 350.32,265.5 360.7,269.6 371.08,272.1 381.46,270 391.84,261.4 402.22,256.3 412.6,267.2 422.98,269.6 433.36,266.1" fill="none" stroke="#2f9a3a" stroke-width="1.4" stroke-linejoin="round"/>
<polyline points="256.9,285.7 267.28,288.1 277.66,287.5 288.04,287.5 298.42,289.1 308.8,302.5 319.18,296.3 329.56,287.1 339.94,284.6 350.32,290.2 360.7,283.4 371.08,294.3 381.46,285 391.84,285.7 402.22,292.2 412.6,282.4 422.98,283.4 433.36,282" fill="none" stroke="#bc3038" stroke-width="1.4" stroke-linejoin="round"/>
<polyline points="256.9,323.6 267.28,325 277.66,323 288.04,318.9 298.42,320.9 308.8,328.7 319.18,319.9 329.56,315.4 339.94,321.6 350.32,318.9 360.7,316.8 371.08,322 381.46,326.5 391.84,309.2 402.22,315.8 412.6,322.4 422.98,320.9 433.36,320.3" fill="none" stroke="#9a2c78" stroke-width="1.4" stroke-linejoin="round"/>
<line x1="360.7" y1="193.55" x2="360.7" y2="334.2" stroke="#c81c30" stroke-width="1.25" stroke-dasharray="5.6 2.2 1.5 2.3"/>
<path d="M360.7 211.1V219.4H371.08" fill="none" stroke="#222" stroke-width="0.95"/>
<text x="359.5" y="218.6" class="bl" text-anchor="end"><tspan dy="-0.6" stroke-width="0.35">-</tspan><tspan dy="0.6">0.06</tspan></text>
<path d="M358.9 209.9H362.5L360.7 212.8Z" fill="#000"/>
<path d="M369.28 216.9H372.88L371.08 219.8Z" fill="#000"/>
<path d="M360.7 235.2V243.8H371.08" fill="none" stroke="#222" stroke-width="0.95"/>
<text x="359.5" y="246.5" class="bl" text-anchor="end"><tspan dy="-0.6" stroke-width="0.35">-</tspan><tspan dy="0.6">0.08</tspan></text>
<path d="M358.9 234H362.5L360.7 236.9Z" fill="#000"/>
<path d="M369.28 238.5H372.88L371.08 241.4Z" fill="#000"/>
<path d="M360.7 269.6V274.8H371.08" fill="none" stroke="#222" stroke-width="0.95"/>
<text x="359.5" y="274.6" class="bl" text-anchor="end"><tspan dy="-0.6" stroke-width="0.35">-</tspan><tspan dy="0.6">0.06</tspan></text>
<path d="M358.9 268.4H362.5L360.7 271.3Z" fill="#000"/>
<path d="M369.28 270.9H372.88L371.08 273.8Z" fill="#000"/>
<path d="M360.7 283.4V295.9H371.08" fill="none" stroke="#222" stroke-width="0.95"/>
<text x="359.5" y="293.3" class="bl" text-anchor="end"><tspan dy="-0.6" stroke-width="0.35">-</tspan><tspan dy="0.6">3.2</tspan></text>
<path d="M358.9 282.2H362.5L360.7 285.1Z" fill="#000"/>
<path d="M369.28 293.1H372.88L371.08 296Z" fill="#000"/>
<path d="M360.7 316.8V325.7H371.08" fill="none" stroke="#222" stroke-width="0.95"/>
<text x="359.5" y="324.1" class="bl" text-anchor="end"><tspan dy="-0.6" stroke-width="0.35">-</tspan><tspan dy="0.6">1.4</tspan></text>
<path d="M358.9 315.6H362.5L360.7 318.5Z" fill="#000"/>
<path d="M369.28 320.8H372.88L371.08 323.7Z" fill="#000"/>
<path d="M248.2 193.55H433.36V334.2H248.2" fill="none" stroke="#636363" stroke-width="1.25"/>
<line x1="256.9" y1="193.55" x2="256.9" y2="334.2" stroke="#636363" stroke-width="1.2"/>
<text x="267.98" y="344" class="yr">2001</text>
<text x="288.74" y="344" class="yr">2003</text>
<text x="309.5" y="344" class="yr">2005</text>
<text x="330.26" y="344" class="yr">2007</text>
<text x="351.02" y="344" class="yr">2009</text>
<text x="371.78" y="344" class="yr">2011</text>
<text x="392.54" y="344" class="yr">2013</text>
<text x="413.3" y="344" class="yr">2015</text>
<text x="434.06" y="344" class="yr">2017</text>
<text x="344.8" y="355.4" class="cap">(f) Grassland</text>
<line x1="8.4" y1="407.42" x2="18.3" y2="407.42" stroke="#636363" stroke-width="1"/>
<line x1="18.2" y1="407.42" x2="197.77" y2="407.42" stroke="#444" stroke-width="0.95" stroke-dasharray="2 2.3"/>
<line x1="8.4" y1="436.14" x2="18.3" y2="436.14" stroke="#636363" stroke-width="1"/>
<line x1="18.2" y1="436.14" x2="197.77" y2="436.14" stroke="#444" stroke-width="0.95" stroke-dasharray="2 2.3"/>
<line x1="8.4" y1="464.86" x2="18.3" y2="464.86" stroke="#636363" stroke-width="1"/>
<line x1="18.2" y1="464.86" x2="197.77" y2="464.86" stroke="#444" stroke-width="0.95" stroke-dasharray="2 2.3"/>
<line x1="8.4" y1="493.58" x2="18.3" y2="493.58" stroke="#636363" stroke-width="1"/>
<line x1="18.2" y1="493.58" x2="197.77" y2="493.58" stroke="#444" stroke-width="0.95" stroke-dasharray="2 2.3"/>
<line x1="28.86" y1="378.7" x2="28.86" y2="380.5" stroke="#444" stroke-width="0.7"/>
<line x1="28.86" y1="522.3" x2="28.86" y2="520.5" stroke="#444" stroke-width="0.7"/>
<line x1="39.41" y1="378.7" x2="39.41" y2="380.5" stroke="#444" stroke-width="0.7"/>
<line x1="39.41" y1="522.3" x2="39.41" y2="520.5" stroke="#444" stroke-width="0.7"/>
<line x1="49.97" y1="378.7" x2="49.97" y2="380.5" stroke="#444" stroke-width="0.7"/>
<line x1="49.97" y1="522.3" x2="49.97" y2="520.5" stroke="#444" stroke-width="0.7"/>
<line x1="60.53" y1="378.7" x2="60.53" y2="380.5" stroke="#444" stroke-width="0.7"/>
<line x1="60.53" y1="522.3" x2="60.53" y2="520.5" stroke="#444" stroke-width="0.7"/>
<line x1="71.09" y1="378.7" x2="71.09" y2="380.5" stroke="#444" stroke-width="0.7"/>
<line x1="71.09" y1="522.3" x2="71.09" y2="520.5" stroke="#444" stroke-width="0.7"/>
<line x1="81.64" y1="378.7" x2="81.64" y2="380.5" stroke="#444" stroke-width="0.7"/>
<line x1="81.64" y1="522.3" x2="81.64" y2="520.5" stroke="#444" stroke-width="0.7"/>
<line x1="92.2" y1="378.7" x2="92.2" y2="380.5" stroke="#444" stroke-width="0.7"/>
<line x1="92.2" y1="522.3" x2="92.2" y2="520.5" stroke="#444" stroke-width="0.7"/>
<line x1="102.76" y1="378.7" x2="102.76" y2="380.5" stroke="#444" stroke-width="0.7"/>
<line x1="102.76" y1="522.3" x2="102.76" y2="520.5" stroke="#444" stroke-width="0.7"/>
<line x1="113.31" y1="378.7" x2="113.31" y2="380.5" stroke="#444" stroke-width="0.7"/>
<line x1="113.31" y1="522.3" x2="113.31" y2="520.5" stroke="#444" stroke-width="0.7"/>
<line x1="123.87" y1="378.7" x2="123.87" y2="380.5" stroke="#444" stroke-width="0.7"/>
<line x1="123.87" y1="522.3" x2="123.87" y2="520.5" stroke="#444" stroke-width="0.7"/>
<line x1="134.43" y1="378.7" x2="134.43" y2="380.5" stroke="#444" stroke-width="0.7"/>
<line x1="134.43" y1="522.3" x2="134.43" y2="520.5" stroke="#444" stroke-width="0.7"/>
<line x1="144.98" y1="378.7" x2="144.98" y2="380.5" stroke="#444" stroke-width="0.7"/>
<line x1="144.98" y1="522.3" x2="144.98" y2="520.5" stroke="#444" stroke-width="0.7"/>
<line x1="155.54" y1="378.7" x2="155.54" y2="380.5" stroke="#444" stroke-width="0.7"/>
<line x1="155.54" y1="522.3" x2="155.54" y2="520.5" stroke="#444" stroke-width="0.7"/>
<line x1="166.1" y1="378.7" x2="166.1" y2="380.5" stroke="#444" stroke-width="0.7"/>
<line x1="166.1" y1="522.3" x2="166.1" y2="520.5" stroke="#444" stroke-width="0.7"/>
<line x1="176.66" y1="378.7" x2="176.66" y2="380.5" stroke="#444" stroke-width="0.7"/>
<line x1="176.66" y1="522.3" x2="176.66" y2="520.5" stroke="#444" stroke-width="0.7"/>
<line x1="187.21" y1="378.7" x2="187.21" y2="380.5" stroke="#444" stroke-width="0.7"/>
<line x1="187.21" y1="522.3" x2="187.21" y2="520.5" stroke="#444" stroke-width="0.7"/>
<text x="13.5" y="384" class="tl">0.5</text>
<text x="13.5" y="405.52" class="tl">0.3</text>
<line x1="13.7" y1="386.4" x2="13.7" y2="400.02" stroke="#666" stroke-width="0.8"/>
<path d="M12.9 387.7L13.7 386.4L14.5 387.7Z" fill="#444"/>
<path d="M12.9 398.72L13.7 400.02L14.5 398.72Z" fill="#444"/>
<text x="13.5" y="412.72" class="tl">8.5</text>
<text x="13.5" y="434.24" class="tl">3.9</text>
<line x1="13.7" y1="415.12" x2="13.7" y2="428.74" stroke="#666" stroke-width="0.8"/>
<path d="M12.9 416.42L13.7 415.12L14.5 416.42Z" fill="#444"/>
<path d="M12.9 427.44L13.7 428.74L14.5 427.44Z" fill="#444"/>
<text x="13.5" y="441.44" class="tl">0.8</text>
<text x="13.5" y="462.96" class="tl">0.3</text>
<line x1="13.7" y1="443.84" x2="13.7" y2="457.46" stroke="#666" stroke-width="0.8"/>
<path d="M12.9 445.14L13.7 443.84L14.5 445.14Z" fill="#444"/>
<path d="M12.9 456.16L13.7 457.46L14.5 456.16Z" fill="#444"/>
<text x="13.5" y="470.16" class="tl">21</text>
<text x="13.5" y="491.68" class="tl">14</text>
<line x1="13.7" y1="472.56" x2="13.7" y2="486.18" stroke="#666" stroke-width="0.8"/>
<path d="M12.9 473.86L13.7 472.56L14.5 473.86Z" fill="#444"/>
<path d="M12.9 484.88L13.7 486.18L14.5 484.88Z" fill="#444"/>
<text x="13.5" y="498.88" class="tl">11</text>
<text x="13.5" y="520.4" class="tl">3.3</text>
<line x1="13.7" y1="501.28" x2="13.7" y2="514.9" stroke="#666" stroke-width="0.8"/>
<path d="M12.9 502.58L13.7 501.28L14.5 502.58Z" fill="#444"/>
<path d="M12.9 513.6L13.7 514.9L14.5 513.6Z" fill="#444"/>
<polyline points="18.3,398.2 134.43,397 144.98,401.7 197.77,381.2" fill="none" stroke="#c652dc" stroke-width="1.4" stroke-linejoin="round"/>
<polyline points="18.3,426.3 28.86,429 39.41,424.3 49.97,427.4 60.53,429.4 71.09,429.4 81.64,428.8 92.2,431.5 102.76,425.9 113.31,422.8 123.87,418.1 134.43,431.5 144.98,426.7 155.54,421.8 166.1,427.4 176.66,421.6 187.21,423.7 197.77,410.3" fill="none" stroke="#3a46a4" stroke-width="1.4" stroke-linejoin="round"/>
<polyline points="18.3,454.2 28.86,462.2 39.41,445.4 49.97,441.7 60.53,453.2 71.09,447.9 81.64,450.5 92.2,456.7 102.76,445.4 113.31,460.8 123.87,448.5 134.43,441.3 144.98,448.9 155.54,446.4 166.1,447.9 176.66,447 187.21,451.1 197.77,442.7" fill="none" stroke="#2f9a3a" stroke-width="1.4" stroke-linejoin="round"/>
<polyline points="18.3,475.6 28.86,480.9 39.41,479.3 49.97,482.4 60.53,477.6 71.09,482.4 81.64,485.9 92.2,480.7 102.76,480.9 113.31,476.2 123.87,486.9 134.43,487.9 144.98,490.6 155.54,480.3 166.1,478.3 176.66,476.2 187.21,469 197.77,472.5" fill="none" stroke="#bc3038" stroke-width="1.4" stroke-linejoin="round"/>
<polyline points="18.3,501.8 28.86,514.8 39.41,503.9 49.97,500.8 60.53,504.3 71.09,501.4 81.64,505.3 92.2,503.5 102.76,500.8 113.31,514.8 123.87,519.3 134.43,500.8 144.98,509.6 155.54,505.9 166.1,500.4 176.66,503.3 187.21,498.3 197.77,503.9" fill="none" stroke="#9a2c78" stroke-width="1.4" stroke-linejoin="round"/>
<line x1="134.43" y1="378.7" x2="134.43" y2="522.3" stroke="#c81c30" stroke-width="1.25" stroke-dasharray="5.6 2.2 1.5 2.3"/>
<path d="M134.43 397V403.1H144.98" fill="none" stroke="#222" stroke-width="0.95"/>
<text x="133.23" y="402.6" class="bl" text-anchor="end"><tspan dy="-0.6" stroke-width="0.35">-</tspan><tspan dy="0.6">0.02</tspan></text>
<path d="M132.63 395.8H136.23L134.43 398.7Z" fill="#000"/>
<path d="M143.18 400.5H146.78L144.98 403.4Z" fill="#000"/>
<path d="M134.43 433.1H144.98V426.7" fill="none" stroke="#222" stroke-width="0.95"/>
<text x="146.48" y="434.6" class="bl" text-anchor="start">0.78</text>
<path d="M132.63 430.3H136.23L134.43 433.2Z" fill="#000"/>
<path d="M143.18 425.5H146.78L144.98 428.4Z" fill="#000"/>
<path d="M134.43 441.3V448.9H144.98" fill="none" stroke="#222" stroke-width="0.95"/>
<text x="133.23" y="443.8" class="bl" text-anchor="end"><tspan dy="-0.6" stroke-width="0.35">-</tspan><tspan dy="0.6">0.12</tspan></text>
<path d="M132.63 440.1H136.23L134.43 443Z" fill="#000"/>
<path d="M143.18 447.7H146.78L144.98 450.6Z" fill="#000"/>
<path d="M134.43 487.9V491H144.98" fill="none" stroke="#222" stroke-width="0.95"/>
<text x="133.23" y="491.7" class="bl" text-anchor="end"><tspan dy="-0.6" stroke-width="0.35">-</tspan><tspan dy="0.6">0.6</tspan></text>
<path d="M132.63 486.7H136.23L134.43 489.6Z" fill="#000"/>
<path d="M143.18 489.4H146.78L144.98 492.3Z" fill="#000"/>
<path d="M134.43 500.8V510H144.98" fill="none" stroke="#222" stroke-width="0.95"/>
<text x="133.23" y="507.4" class="bl" text-anchor="end"><tspan dy="-0.6" stroke-width="0.35">-</tspan><tspan dy="0.6">3.5</tspan></text>
<path d="M132.63 499.6H136.23L134.43 502.5Z" fill="#000"/>
<path d="M143.18 508.4H146.78L144.98 511.3Z" fill="#000"/>
<path d="M8.4 378.7H197.77V522.3H8.4" fill="none" stroke="#636363" stroke-width="1.25"/>
<line x1="18.3" y1="378.7" x2="18.3" y2="522.3" stroke="#636363" stroke-width="1.2"/>
<text x="29.56" y="531.9" class="yr">2001</text>
<text x="50.67" y="531.9" class="yr">2003</text>
<text x="71.79" y="531.9" class="yr">2005</text>
<text x="92.9" y="531.9" class="yr">2007</text>
<text x="114.01" y="531.9" class="yr">2009</text>
<text x="135.13" y="531.9" class="yr">2011</text>
<text x="156.24" y="531.9" class="yr">2013</text>
<text x="177.36" y="531.9" class="yr">2015</text>
<text x="198.47" y="531.9" class="yr">2017</text>
<text x="108" y="543.6" class="cap" font-size="7.85">(g) Sparse Vegetation</text>
<line x1="241" y1="387.8" x2="265.6" y2="387.8" stroke="#c652dc" stroke-width="1.2"/>
<text x="269.3" y="391.6" class="lg">Trend</text>
<line x1="344" y1="387.8" x2="368" y2="387.8" stroke="#3a46a4" stroke-width="1.2"/>
<text x="371.8" y="391.6" class="lg">L Integral</text>
<line x1="240.3" y1="408.2" x2="264.4" y2="408.2" stroke="#2f9a3a" stroke-width="1.2"/>
<text x="267.6" y="412" class="lg">Peak</text>
<line x1="344" y1="408.2" x2="368" y2="408.2" stroke="#bc3038" stroke-width="1.2"/>
<text x="371.8" y="412" class="lg">EOS</text>
<path d="M252 426.6H255.6L253.8 429.4Z" fill="#000"/>
<text x="269.3" y="431.6" class="lg">Breakpoints</text>
<line x1="344" y1="428.2" x2="368" y2="428.2" stroke="#9a2c78" stroke-width="1.2"/>
<text x="371.8" y="431.6" class="lg">SOS</text>
<line x1="241.2" y1="454.1" x2="266.3" y2="454.1" stroke="#c81c30" stroke-width="1.2" stroke-dasharray="5.8 1.6 1.6 1.9"/>
<text x="269.3" y="457.6" class="lg">Year of change</text>
<text x="241.8" y="470.8" class="lg">detected by BFAST</text>
</g>
</svg>
</body></html>
